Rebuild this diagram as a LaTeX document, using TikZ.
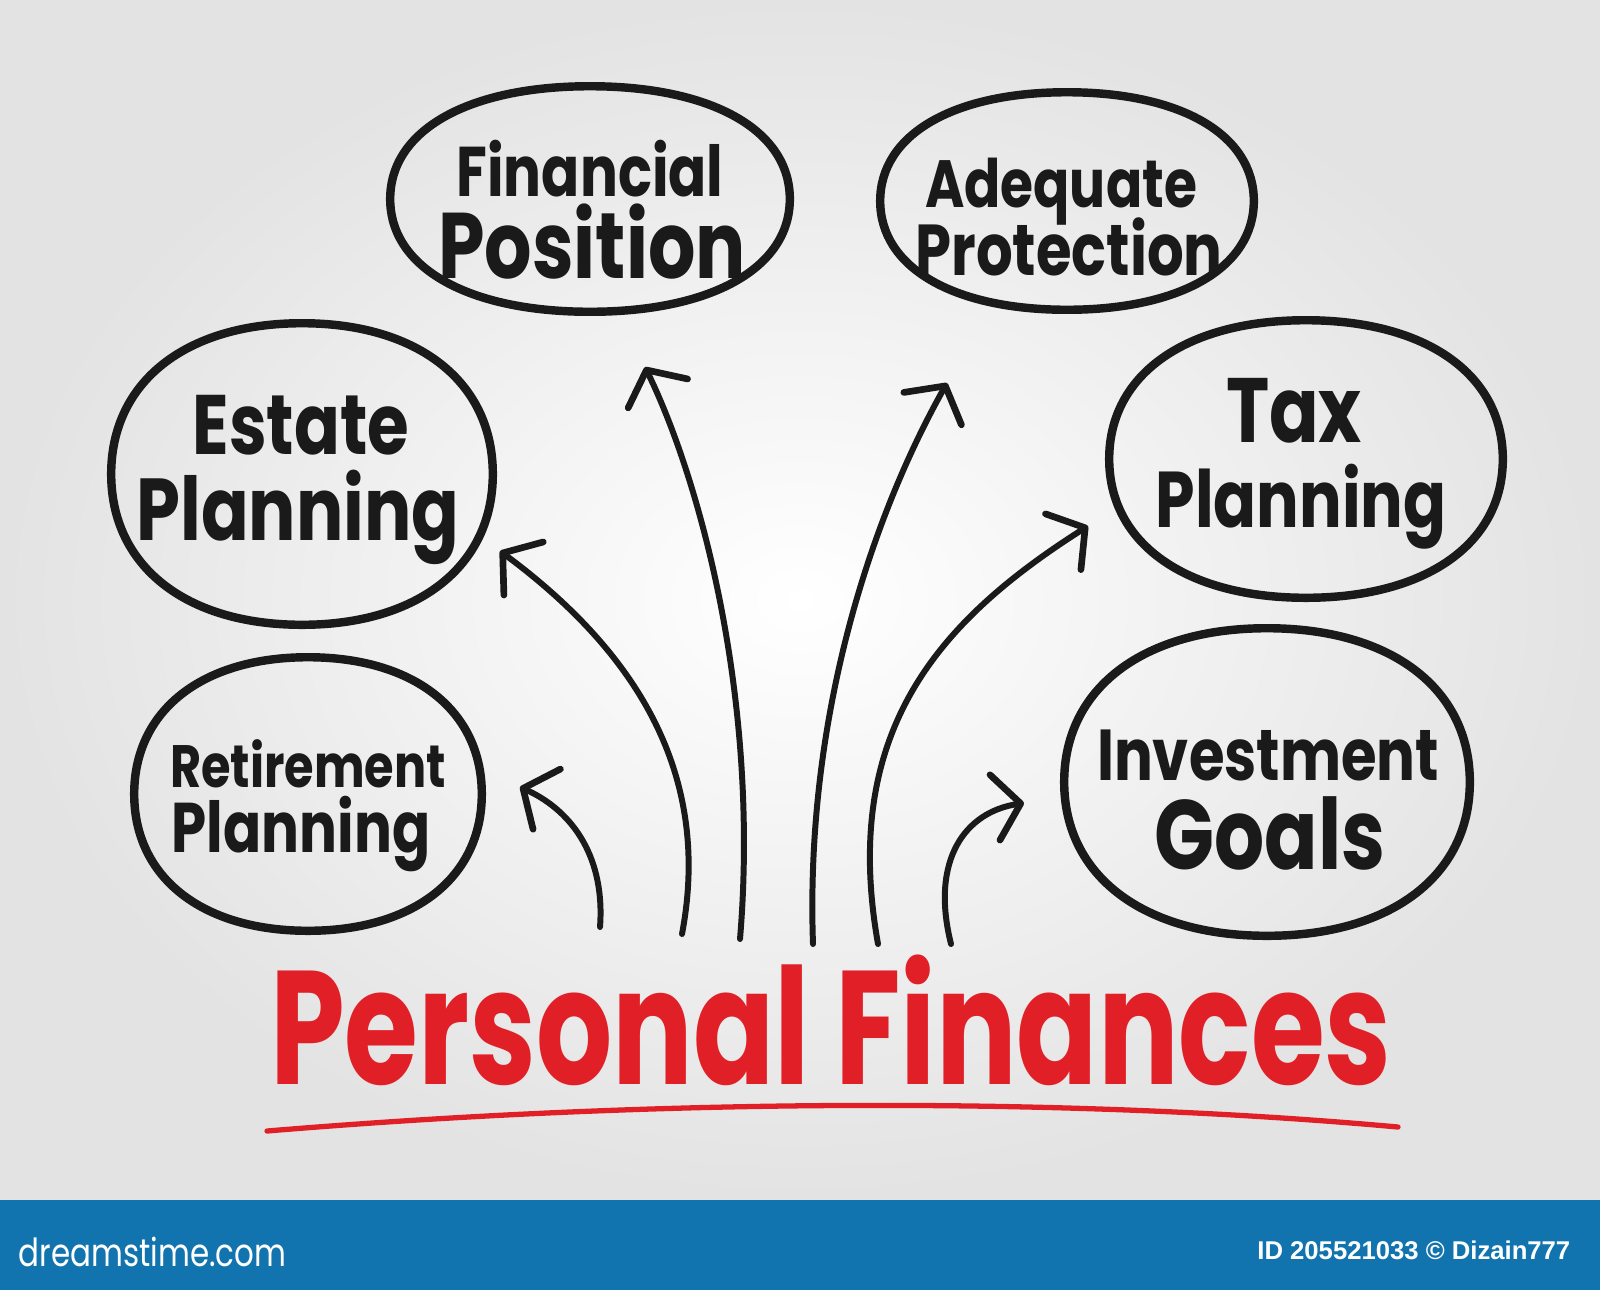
\documentclass[tikz,border=0pt]{standalone}
\usepackage{fontspec}
\setmainfont{Poppins}
\newfontfamily\handfont{Poppins}[FakeStretch=0.8]
\newfontfamily\titlefont{Poppins}[FakeStretch=0.74]
\newfontfamily\barfont{Liberation Sans}
\usetikzlibrary{calc,arrows.meta}
\definecolor{ink}{HTML}{1A1A1A}
\definecolor{inkred}{HTML}{E11F26}
\definecolor{barblue}{HTML}{1274AE}
\tikzset{
  bubble/.style={rectangle, inner sep=0pt},
  bubbleline/.style={draw=ink, line width=2.4pt},
  branch/.style={draw=ink, line width=1.7pt, line cap=round,
    -{Straight Barb[length=2.6mm,width=6.6mm,line width=1.9pt,round]}},
  lbl/.style={font=\handfont\bfseries\fontsize{#1}{#1}\selectfont, text=ink, inner sep=0pt, anchor=base},
}
% squarish oval round a named node
\newcommand\ovalround[1]{%
  \draw[bubbleline] (#1.east)
    .. controls ($(#1.east)!0.61!(#1.north east)$) and ($(#1.north)!0.61!(#1.north east)$) .. (#1.north)
    .. controls ($(#1.north)!0.61!(#1.north west)$) and ($(#1.west)!0.61!(#1.north west)$) .. (#1.west)
    .. controls ($(#1.west)!0.61!(#1.south west)$) and ($(#1.south)!0.61!(#1.south west)$) .. (#1.south)
    .. controls ($(#1.south)!0.61!(#1.south east)$) and ($(#1.east)!0.61!(#1.south east)$) .. (#1.east)
    -- cycle;}
\begin{document}
\begin{tikzpicture}[x=0.01cm,y=-0.01cm]
    \useasboundingbox (0,0) rectangle (1600,1290);
    % background and bar
    \shade[inner color=white, outer color=black!11] (0,0) rectangle (1600,1200);
    \fill[barblue] (0,1200) rectangle (1600,1290);

    % bubbles
    \node[bubble, minimum width=3.98cm, minimum height=2.24cm] (finpos) at (590,199) {};
    \node[bubble, minimum width=3.72cm, minimum height=2.16cm] (adeq) at (1067,201) {};
    \node[bubble, minimum width=3.80cm, minimum height=3.00cm] (estate) at (302,474) {};
    \node[bubble, minimum width=3.92cm, minimum height=2.76cm] (tax) at (1306,459) {};
    \node[bubble, minimum width=3.46cm, minimum height=2.72cm] (retire) at (308,794) {};
    \node[bubble, minimum width=4.04cm, minimum height=3.06cm] (invest) at (1267,782) {};
    \ovalround{finpos} \ovalround{adeq} \ovalround{estate}
    \ovalround{tax} \ovalround{retire} \ovalround{invest}

    % labels
    \node[lbl=20] (finpos1) at (590,196) {Financial};
    \node[lbl=26.5] (finpos2) at (592,278) {Position};
    \node[lbl=19] (adeq1) at (1061,207) {Adequate};
    \node[lbl=20.5] (adeq2) at (1069,275) {Protection};
    \node[lbl=24] (estate1) at (301,454) {Estate};
    \node[lbl=25] (estate2) at (298,540) {Planning};
    \node[lbl=26] (tax1) at (1294,442) {Tax};
    \node[lbl=22.5] (tax2) at (1301,527) {Planning};
    \node[lbl=17] (retire1) at (308,787) {Retirement};
    \node[lbl=20] (retire2) at (301,852) {Planning};
    \node[lbl=20.5] (invest1) at (1268,780) {Investment};
    \node[lbl=28] (invest2) at (1270,869) {Goals};

    % title
    \node[font=\titlefont\bfseries\fontsize{46}{46}\selectfont, text=inkred, inner sep=0pt, anchor=base]
      (title) at (831,1084) {Personal Finances};
    \draw[inkred, line width=1.5pt, line cap=round] (267,1131) .. controls (700,1095) and (1100,1100) .. (1398,1127);

    % arrows
    \coordinate (r0) at (600,927);   \coordinate (r1) at (520,787);
    \coordinate (e0) at (682,934);   \coordinate (e1) at (500,551);
    \coordinate (f0) at (740,939);   \coordinate (f1) at (645,367);
    \coordinate (a0) at (813,944);   \coordinate (a1) at (947,383);
    \coordinate (t0) at (878,944);   \coordinate (t1) at (1088,526);
    \coordinate (i0) at (951,944);   \coordinate (i1) at (1024,803);
    \draw[branch] (r0) .. controls (605,860) and (575,812) .. (r1);
    \draw[branch] (e0) .. controls (715,760) and (620,640) .. (e1);
    \draw[branch] (f0) .. controls (760,700) and (700,480) .. (f1);
    \draw[branch] (a0) .. controls (805,720) and (870,520) .. (a1);
    \draw[branch] (t0) .. controls (840,730) and (940,620) .. (t1);
    \draw[branch] (i0) .. controls (930,860) and (965,812) .. (i1);

    % footer
    \node[font=\handfont\fontsize{11}{11}\selectfont, text=white, anchor=west, inner sep=0pt] (site) at (18,1252) {dreamstime.com};
    \node[font=\barfont\bfseries\fontsize{7.3}{7.3}\selectfont, text=white, anchor=east, inner sep=0pt] (imgid) at (1571,1250) {ID 205521033 © Dizain777};
\end{tikzpicture}
\end{document}
